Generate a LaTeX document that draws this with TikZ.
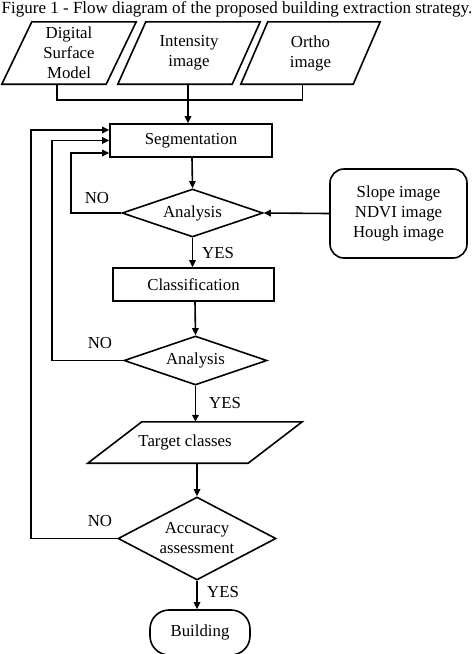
\documentclass[tikz,border=0pt]{standalone}
\usepackage{fontspec}
\setmainfont{Liberation Serif}
\usetikzlibrary{shapes.geometric,arrows.meta}
\begin{document}
\begin{tikzpicture}[x=1pt,y=-1pt,
  every node/.style={font=\fontsize{16.8}{20}\selectfont, inner sep=0pt},
  line/.style={line width=1.6pt},
  arr/.style={line width=1.6pt,-{Triangle[length=7pt,width=6.5pt]}},
  box/.style={draw,line width=1.6pt,rectangle},
  para/.style={align=center},
  dec/.style={draw,line width=1.6pt,diamond,align=center},
  lbl/.style={}]
\useasboundingbox (0,0) rectangle (474,654);
\node (title) at (237,9) {\fontsize{17}{20}\selectfont Figure 1 - Flow diagram of the proposed building extraction strategy.};

% input parallelograms
\node[para,minimum width=104,minimum height=62] (dsm) at (69,53) {Digital\\Surface\\Model};
\draw[line] ([xshift=-15]dsm.south west) -- ([xshift=15]dsm.north west) -- ([xshift=15]dsm.north east) -- ([xshift=-15]dsm.south east) -- cycle;
\node[para,minimum width=114,minimum height=62] (int) at (189,53) {Intensity\\image};
\draw[line] ([xshift=-14]int.south west) -- ([xshift=14]int.north west) -- ([xshift=14]int.north east) -- ([xshift=-14]int.south east) -- cycle;
\node[para,minimum width=112,minimum height=62] (ort) at (310.5,53) {Ortho\\image};
\draw[line] ([xshift=-13.5]ort.south west) -- ([xshift=13.5]ort.north west) -- ([xshift=13.5]ort.north east) -- ([xshift=-13.5]ort.south east) -- cycle;

\node[box,minimum width=162,minimum height=33] (seg) at (191,140.5) {Segmentation};
\node[dec,aspect=3,minimum width=141,minimum height=48] (a1) at (192.5,213) {Analysis};
\node[draw,line width=1.6pt,rounded corners=14pt,minimum width=137,minimum height=89,align=center] (slope) at (398.5,213.5) {Slope image\\NDVI image\\Hough image};
\node[box,minimum width=161,minimum height=33] (cls) at (193.5,284.5) {Classification};
\node[dec,aspect=3,minimum width=143,minimum height=49] (a2) at (195.5,360.5) {Analysis};
\node[para,minimum width=160,minimum height=41] (tgt) at (195,442.5) {\hspace*{-20pt}Target classes};
\draw[line] ([xshift=-27]tgt.south west) -- ([xshift=27]tgt.north west) -- ([xshift=27]tgt.north east) -- ([xshift=-27]tgt.south east) -- cycle;
\node[dec,aspect=1.9,minimum width=158,minimum height=83] (acc) at (197,538.5) {Accuracy\\assessment};
\node[draw,line width=1.6pt,rounded corners=19pt,minimum width=100,minimum height=45] (bld) at (200,632.5) {Building};

% top join
\draw[line] ([xshift=-12]dsm.south) -- ++(0,16) -| ([xshift=-8]ort.south);
\draw[arr] ([xshift=-1]int.south) -- ([xshift=-1]int.south |- seg.north);

% main flow
\draw[arr] ([xshift=1]seg.south) -- (a1.north);
\draw[arr] (a1.south) -- (a1.south |- cls.north);
\draw[arr] ([xshift=1.5]cls.south) -- (a2.north);
\draw[arr] (a2.south) -- (a2.south |- tgt.north);
\draw[arr] ([xshift=2]tgt.south) -- (acc.north);
\draw[arr] (acc.south) -- (acc.south |- bld.north);
\draw[arr] (slope.west) -- (a1.east);

% feedback
\draw[arr] (a1.west) -- ++(-50,0) |- ([yshift=-12.5]seg.west);
\draw[arr] (a2.west) -- ++(-71,0) |- ([yshift=0]seg.west);
\draw[arr] (acc.west) -- ++(-86,0) |- ([yshift=10.5]seg.west);

% labels
\node[lbl] (no1) at (97,198) {NO};
\node[lbl] (no2) at (100,343) {NO};
\node[lbl] (no3) at (100,521) {NO};
\node[lbl] (yes1) at (218,253) {YES};
\node[lbl] (yes2) at (225,403) {YES};
\node[lbl] (yes3) at (223,592) {YES};
\end{tikzpicture}
\end{document}
